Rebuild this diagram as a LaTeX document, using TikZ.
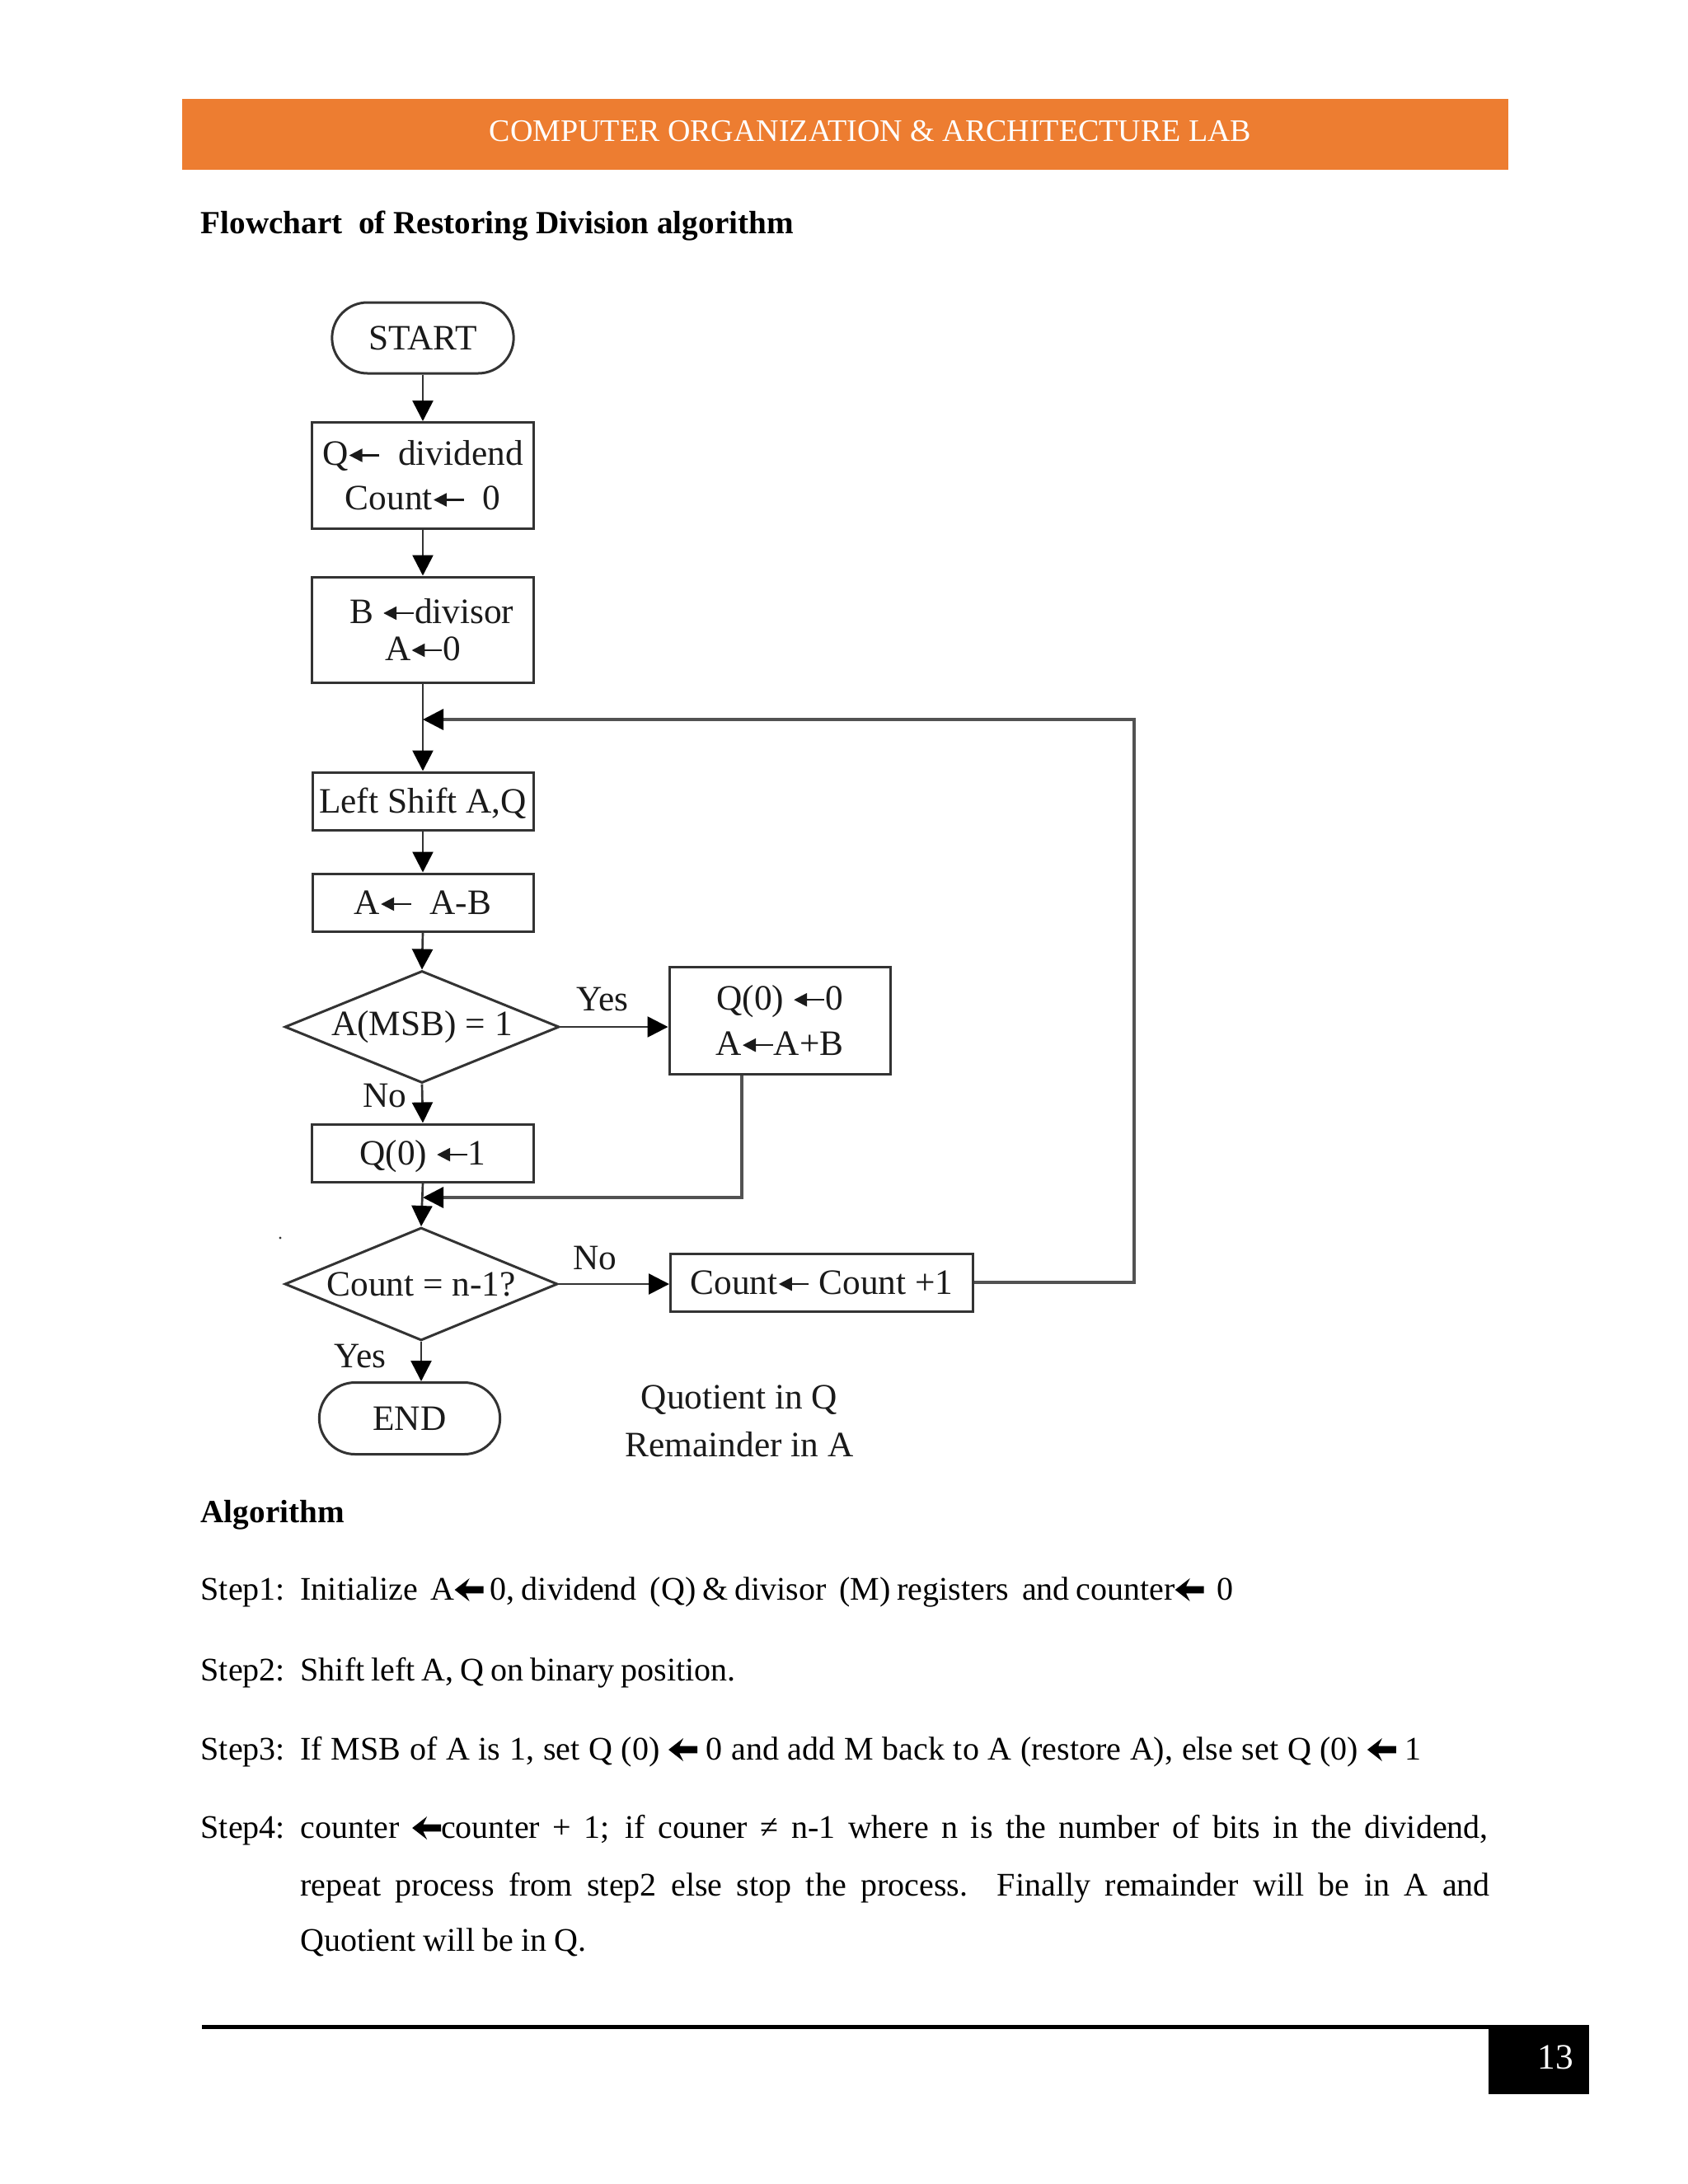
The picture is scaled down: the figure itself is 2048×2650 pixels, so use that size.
\documentclass[tikz,border=0pt]{standalone}
\usepackage{fontspec}
\setmainfont{Liberation Serif}
\usetikzlibrary{shapes.geometric,shapes.misc,arrows.meta,calc}
\definecolor{hdr}{HTML}{ED7D31}
\definecolor{fc}{HTML}{333333}
\definecolor{ft}{HTML}{1A1A1A}
% small arrow used inside the flowchart boxes
\newcommand{\sarr}{\tikz[baseline=0pt]{\draw[line width=0.7pt,-{Triangle[length=4.8pt,width=4.8pt]}] (11pt,3.7pt)--(0pt,3.7pt);}}
% heavy arrow used in the algorithm text
\newcommand{\barr}{\tikz[baseline=0pt]{\fill (0pt,3.6pt)--(5.4pt,7.8pt)--(4.0pt,4.9pt)--(10.5pt,4.9pt)--(10.5pt,2.3pt)--(4.0pt,2.3pt)--(5.4pt,-0.6pt)--cycle;}}
\begin{document}
\begin{tikzpicture}[x=0.3pt,y=-0.3pt,
  fcfont/.style={font=\fontsize{13}{16}\selectfont},
  box/.style={draw=fc, line width=0.9pt, rectangle, inner sep=1pt, align=center, text=ft, fcfont},
  oneline/.style={text height=8.6pt, text depth=0pt},
  term/.style={draw=fc, line width=0.9pt, rounded rectangle, inner sep=1pt, text=ft, fcfont, text height=8.6pt, text depth=0pt},
  dec/.style={draw=fc, line width=0.9pt, diamond, aspect=2.45, inner xsep=-8pt, inner ysep=-3pt, text=ft, fcfont},
  arr/.style={draw=fc, line width=0.8pt, -{Triangle[length=7.5pt,width=7.5pt,color=black]}},
  loopline/.style={draw=fc!85, line width=1.05pt, -{Triangle[length=7.5pt,width=7.5pt,color=black]}},
  lbl/.style={inner sep=0pt, text=ft, fcfont},
  body/.style={inner sep=0pt, anchor=base west, font=\fontsize{12}{14}\selectfont},
]
\useasboundingbox (0,0) rectangle (2048,2650);

% ---------- header ----------
\fill[hdr] (221,120) rectangle (1830,206);
\node[anchor=base, inner sep=0pt, text=white, font=\fontsize{11.4}{13}\selectfont] (hdrtext) at (1056,171) {COMPUTER ORGANIZATION \& ARCHITECTURE LAB};

\node[body, font=\fontsize{11.75}{14}\selectfont\bfseries] (title) at (243,283) {Flowchart\ \ of Restoring Division algorithm};

% ---------- flowchart ----------
\node[term, minimum width=68.1pt, minimum height=25.8pt] (start) at (513,410) {START};
\node[box, minimum width=80.7pt, minimum height=38.7pt, font=\fontsize{13}{16.2}\selectfont] (init1) at (513,577) {Q\sarr\ \ dividend\\Count\sarr\ \ 0};
\node[box, minimum width=80.7pt, minimum height=38.4pt, font=\fontsize{13}{13.5}\selectfont] (init2) at (513,764) {\ \ B \sarr divisor\\A\sarr 0};
\node[box, oneline, minimum width=80.4pt, minimum height=21pt] (lshift) at (513,972) {Left Shift A,Q};
\node[box, oneline, minimum width=80.4pt, minimum height=21pt] (sub) at (513,1095) {A\sarr\ \ A-B};
\node[dec, minimum width=99.9pt, minimum height=40.8pt] (msb) at (512,1246) {A(MSB) = 1};
\node[box, minimum width=80.4pt, minimum height=39pt, font=\fontsize{13}{16.5}\selectfont] (restore) at (946,1238) {Q(0) \sarr 0\\A\sarr A+B};
\node[box, oneline, minimum width=80.7pt, minimum height=21pt] (setone) at (513,1399) {Q(0) \sarr 1};
\node[dec, minimum width=99.3pt, minimum height=41.1pt] (cnteq) at (511,1558) {Count = n-1?};
\node[box, oneline, minimum width=110.1pt, minimum height=21pt] (inc) at (997,1556) {Count\sarr\ Count +1};
\node[term, minimum width=67.8pt, minimum height=26.1pt] (end) at (497,1721) {END};

\coordinate (j1) at (513,873);
\coordinate (j2) at (513,1453);
\coordinate (rt) at (1376,873);
\coordinate (mg) at (900,1453);

\draw[arr] (start.south) -- (start.south |- init1.north);
\draw[arr] (init1.south) -- (init2.north);
\draw[arr] (init2.south) -- (lshift.north);
\draw[arr] (lshift.south) -- (sub.north);
\draw[arr] (sub.south) -- (msb.north);
\draw[arr] (msb.east) -- (restore.west |- msb.east);
\draw[arr] (msb.south) -- (setone.north);
\draw[arr] (setone.south) -- (cnteq.north);
\draw[loopline] (restore.south -| mg) -- (mg) -- (j2);
\draw[arr] (cnteq.east) -- (inc.west |- cnteq.east);
\draw[loopline] (inc.east) -- (inc.east -| rt) -- (rt) -- (j1);
\draw[arr] (cnteq.south) -- (cnteq.south |- end.north);

\node[lbl] (yes1) at (731,1213) {Yes};
\node[lbl] (no1) at (467,1330) {No};
\node[lbl] (no2) at (722,1527) {No};
\node[lbl] (yes2) at (437,1645) {Yes};

\node[lbl] (quot) at (897,1699) {Quotient in Q};
\node[lbl] (rem) at (897,1753) {Remainder in A};

\fill[fc] (340,1502) circle (1.6);

% ---------- algorithm text ----------
\node[body, font=\fontsize{11.75}{14}\selectfont\bfseries] (alg) at (243,1847) {Algorithm};

\node[body] (s1) at (243,1941) {Step1:};
\node[body] (t1) at (364,1941) {\makebox[339.6pt][s]{Initialize\ \ A\barr\ 0, dividend\ \ (Q) \& divisor\ \ (M) registers\ \ and counter\barr\ \ 0}};
\node[body] (s2) at (243,2039) {Step2:};
\node[body] (t2) at (364,2039) {\makebox[158.4pt][s]{Shift left A, Q on binary position.}};
\node[body] (s3) at (243,2135) {Step3:};
\node[body] (t3) at (364,2135) {\makebox[408pt][s]{If MSB of A is 1, set Q (0) \barr\ 0 and add M back to A (restore A), else set Q (0) \barr\ 1}};
\node[body] (s4) at (243,2230) {Step4:};
\node[body] (t4a) at (364,2230) {\makebox[432.3pt][s]{counter \barr counter + 1; if couner ≠ n-1 where n is the number of bits in the dividend,}};
\node[body] (t4b) at (364,2300) {\makebox[432.9pt][s]{repeat process from step2 else stop the process. Finally remainder will be in A and}};
\node[body] (t4c) at (364,2367) {\makebox[104.1pt][s]{Quotient will be in Q.}};

% ---------- footer ----------
\draw[line width=1.5pt] (245,2459.5) -- (1806,2459.5);
\fill (1806,2457) rectangle (1928,2541);
\node[anchor=base, inner sep=0pt, text=white, font=\fontsize{13}{15}\selectfont] (pg) at (1887,2510) {13};
\end{tikzpicture}
\end{document}
